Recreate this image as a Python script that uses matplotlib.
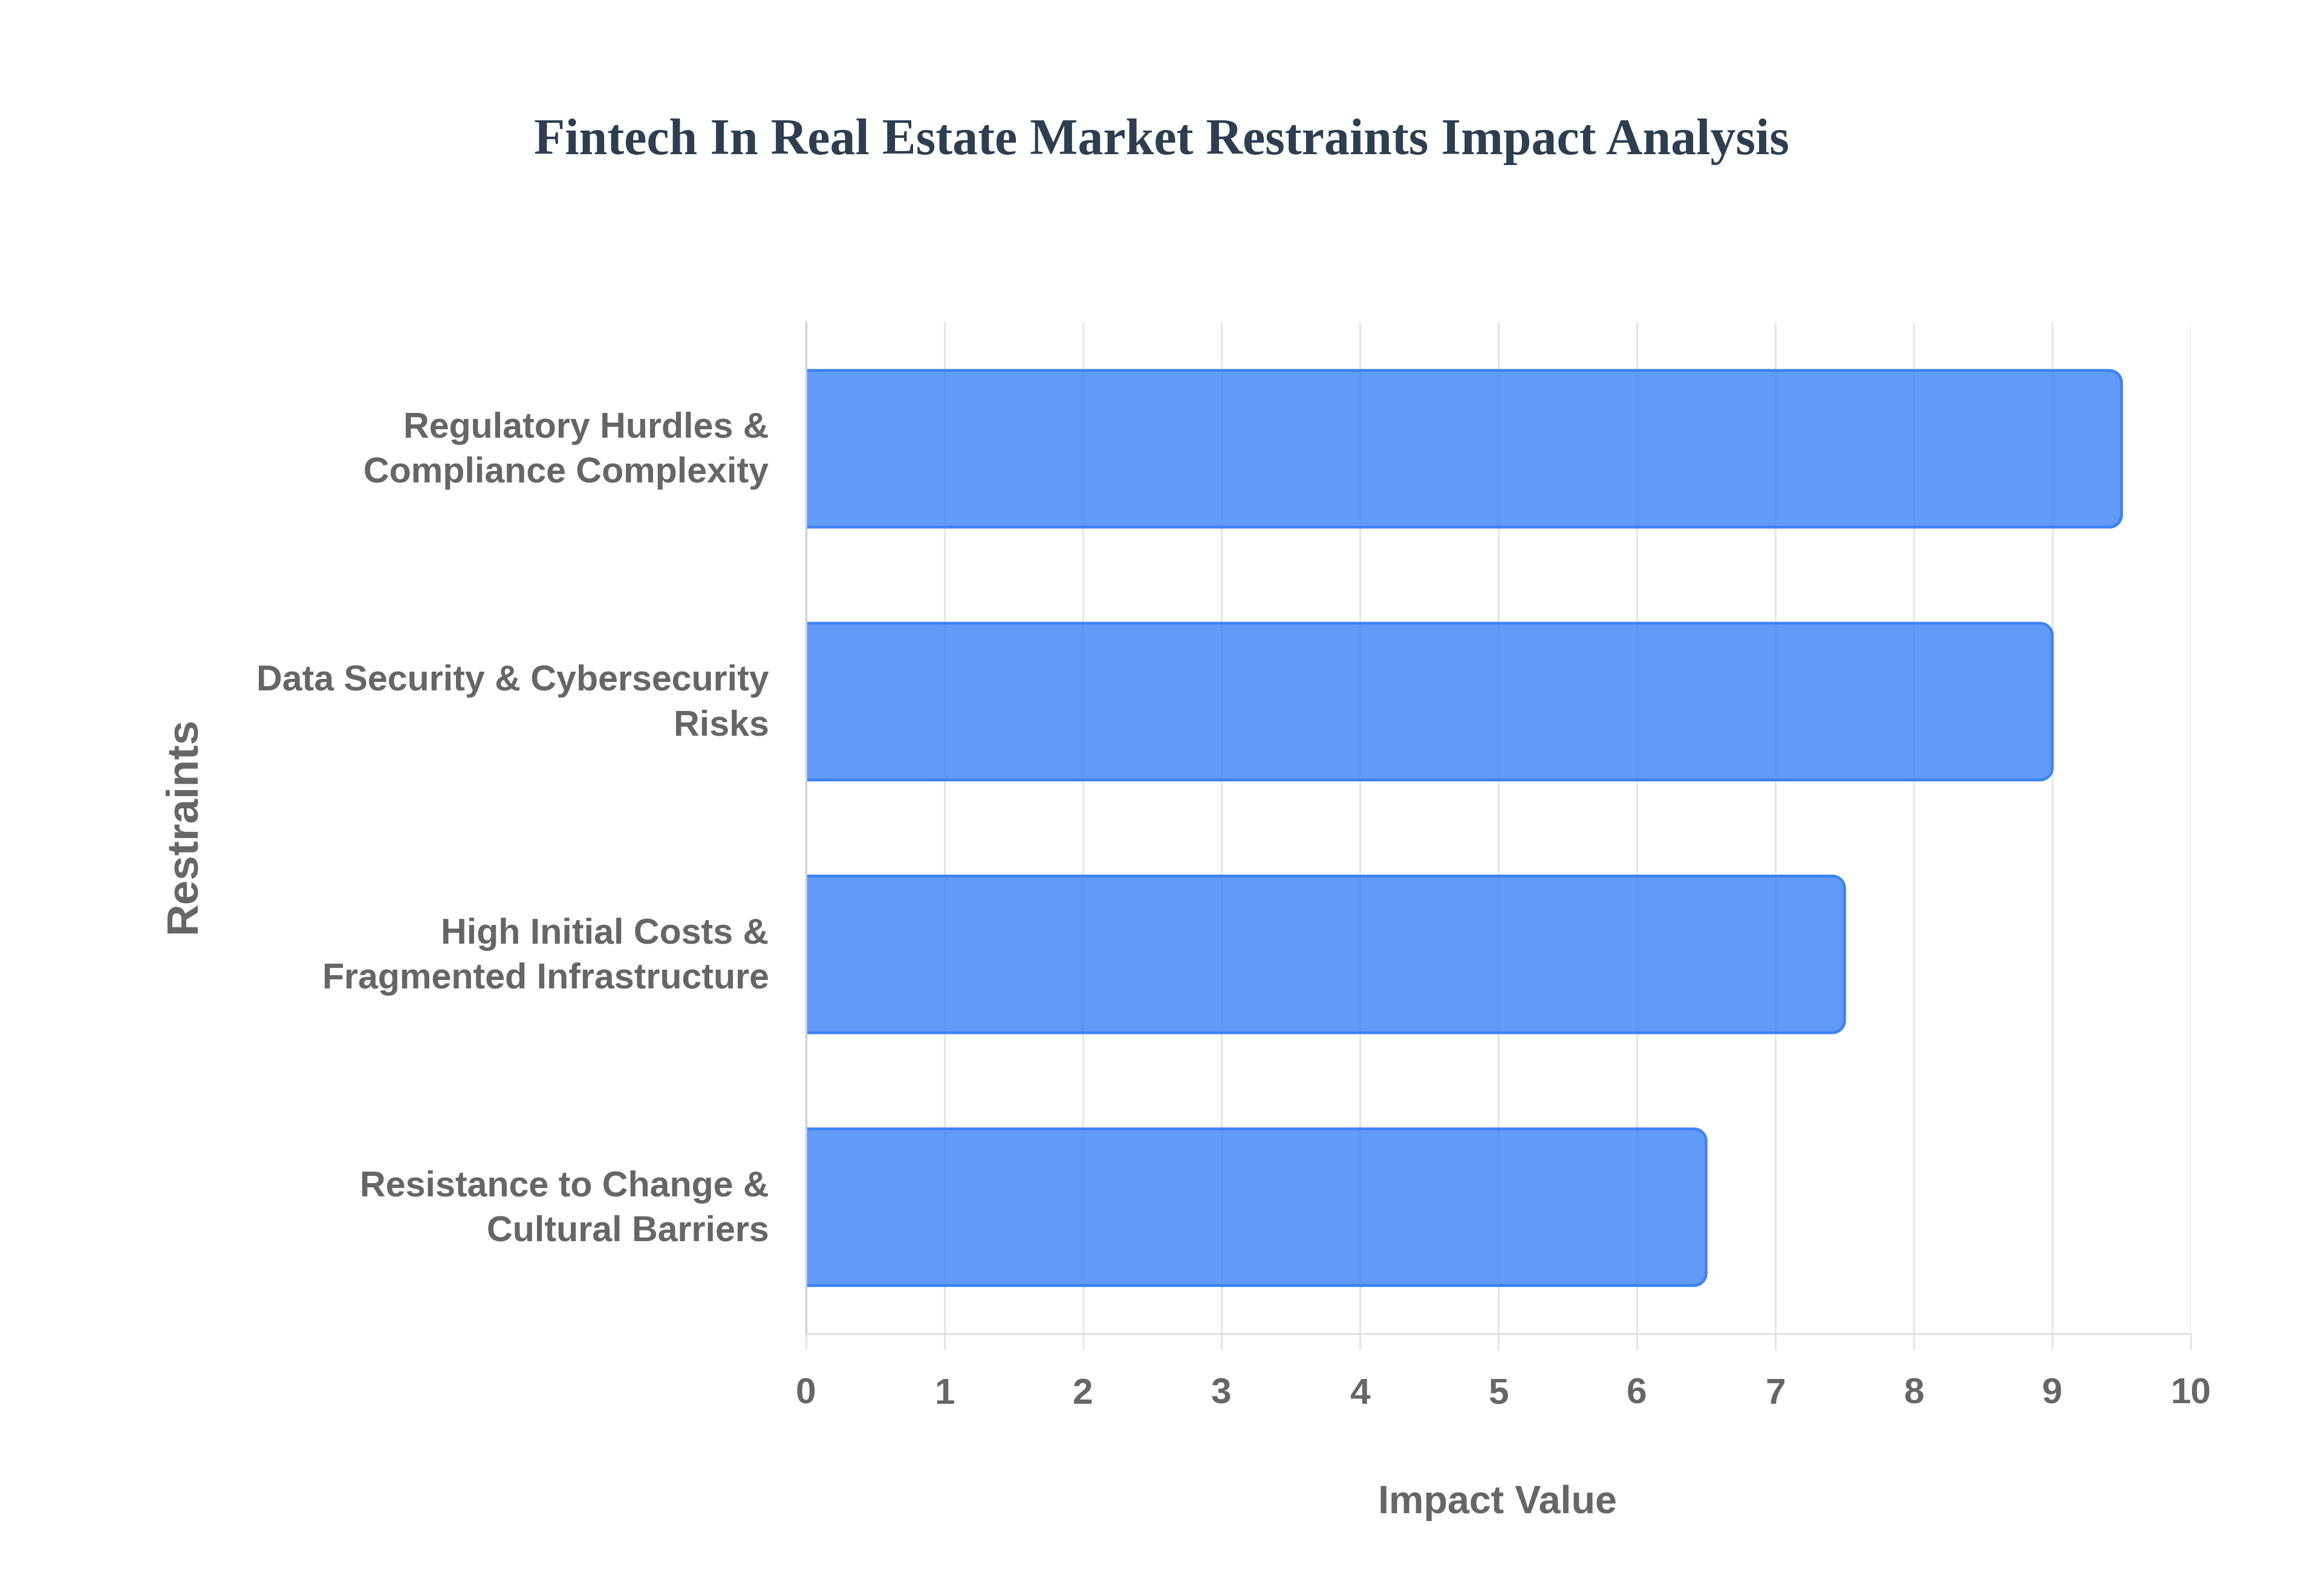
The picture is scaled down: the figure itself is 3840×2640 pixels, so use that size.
import matplotlib
matplotlib.use("Agg")
import matplotlib.pyplot as plt
from matplotlib.path import Path
from matplotlib.patches import PathPatch
from matplotlib.transforms import ScaledTranslation

# ---- data ----
categories = [
    "Regulatory Hurdles &\nCompliance Complexity",
    "Data Security & Cybersecurity\nRisks",
    "High Initial Costs &\nFragmented Infrastructure",
    "Resistance to Change &\nCultural Barriers",
]
values = [9.5, 9.0, 7.5, 6.5]
x_ticks = [0, 1, 2, 3, 4, 5, 6, 7, 8, 9, 10]
x_tick_labels = ["0", "1", "2", "3", "4", "5", "6", "7", "8", "9", "10"]
title = "Fintech In Real Estate Market Restraints Impact Analysis"
x_title = "Impact Value"
y_title = "Restraints"

# ---- styling ----
SANS = ["Liberation Sans", "DejaVu Sans"]
SERIF = ["Liberation Serif", "DejaVu Serif"]
TXT_GRAY = "#666666"
BAR_FILL = (59 / 255, 130 / 255, 246 / 255, 0.8)
BAR_EDGE = "#3b82f6"
GRID = "#e6e6e6"

fig = plt.figure(figsize=(12.8, 8.8), dpi=300)
fig.patch.set_facecolor("white")
ax = fig.add_axes([0.3471, 0.1644, 0.5964, 0.6336])

pos = list(range(len(categories)))
bar_h = 0.62
bars = ax.barh(pos, values, height=bar_h, color=BAR_FILL, edgecolor=BAR_EDGE,
               linewidth=1.1, zorder=2)

ax.set_xlim(0, 10)
ax.set_ylim(len(categories) - 0.5, -0.5)

# replace rectangles with bars rounded at the right end
fig.canvas.draw()
p0 = ax.transData.transform((0, 0))
p1 = ax.transData.transform((1, 1))
px_x = abs(p1[0] - p0[0])
px_y = abs(p1[1] - p0[1])
r_px = 20
rx = r_px / px_x
ry = r_px / px_y
k = 0.5523
for b in bars:
    x0 = b.get_x()
    w = b.get_width()
    y0 = b.get_y()
    h = b.get_height()
    ylo, yhi = min(y0, y0 + h), max(y0, y0 + h)
    v = x0 + w
    verts = [
        (x0, ylo),
        (v - rx, ylo),
        (v - rx + k * rx, ylo), (v, ylo + ry - k * ry), (v, ylo + ry),
        (v, yhi - ry),
        (v, yhi - ry + k * ry), (v - rx + k * rx, yhi), (v - rx, yhi),
        (x0, yhi),
        (x0, ylo),
    ]
    codes = [Path.MOVETO, Path.LINETO,
             Path.CURVE4, Path.CURVE4, Path.CURVE4,
             Path.LINETO,
             Path.CURVE4, Path.CURVE4, Path.CURVE4,
             Path.LINETO, Path.CLOSEPOLY]
    patch = PathPatch(Path(verts, codes), facecolor=BAR_FILL, edgecolor=BAR_EDGE,
                      linewidth=1.1, zorder=2)
    ax.add_patch(patch)
    b.remove()

# grid & spines
ax.set_axisbelow(True)
ax.grid(axis="x", color=GRID, linewidth=0.75, zorder=0)
ax.grid(axis="y", visible=False)
for s in ("top", "right"):
    ax.spines[s].set_visible(False)
ax.spines["left"].set_color("#cfcfcf")
ax.spines["left"].set_linewidth(0.75)
ax.spines["bottom"].set_color("#e3e3e3")
ax.spines["bottom"].set_linewidth(0.75)

# ticks
ax.set_xticks(x_ticks)
ax.set_xticklabels(x_tick_labels, fontsize=14.5, fontweight="bold",
                   color=TXT_GRAY, family=SANS)
ax.tick_params(axis="x", length=6.5, width=0.75, color=GRID, pad=11)
ax.set_yticks(pos)
ax.set_yticklabels(categories, fontsize=14.2, fontweight="bold", color=TXT_GRAY,
                   family=SANS, ha="right", multialignment="right",
                   linespacing=1.44)
ax.tick_params(axis="y", length=0, pad=14.7)
shift = ScaledTranslation(0, 2.9 / 72, fig.dpi_scale_trans)
for lab in ax.get_yticklabels():
    lab.set_transform(lab.get_transform() + shift)

# titles
fig.text(0.5003, 0.9034, title, ha="center", va="baseline", fontsize=20.15,
         fontweight="bold", color="#2c3e50", family=SERIF)
fig.text(0.645, 0.0584, x_title, ha="center", va="center", fontsize=15.5,
         fontweight="bold", color=TXT_GRAY, family=SANS)
fig.text(0.079, 0.483, y_title, ha="center", va="center", rotation=90,
         fontsize=17.6, fontweight="bold", color=TXT_GRAY, family=SANS)

fig.savefig("out.png", dpi=300, facecolor="white")
